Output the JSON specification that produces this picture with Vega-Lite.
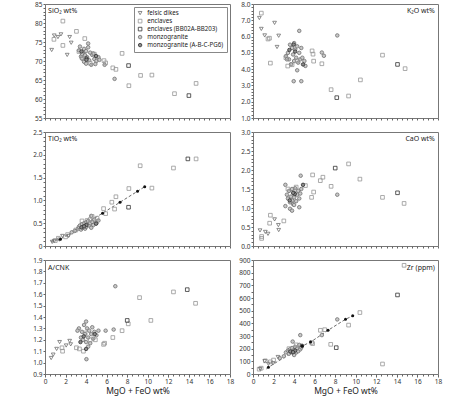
{
  "$schema": "https://vega.github.io/schema/vega-lite/v6.json",
  "padding": {"left": 32, "top": 0, "right": 5, "bottom": 0},
  "config": {
    "font": "Noto Sans",
    "view": {"stroke": "#777", "strokeWidth": 1},
    "axis": {"labelFontSize": 6.5, "labelColor": "#333", "tickColor": "#666", "domain": false, "grid": false, "labelPadding": 1, "titleFontSize": 8.5, "titleFontWeight": "normal", "titleColor": "#222", "titlePadding": 2, "labelOverlap": false, "labelFlush": false, "tickSize": 2, "tickCount": 1000},
    "legend": {"orient": "top-right", "offset": 3, "strokeColor": "#888", "padding": 3, "labelFontSize": 6.2, "labelColor": "#222", "rowPadding": 0, "labelLimit": 200, "fillColor": "white"},
    "text": {"fontSize": 7, "color": "#222"}
  },
  "datasets": {
    "pts": [
      {"p":"SiO2","t":"monzogranite","x":3.3,"y":72.8},{"p":"SiO2","t":"monzogranite","x":3.4,"y":73.8},{"p":"SiO2","t":"monzogranite","x":3.5,"y":71.2},{"p":"SiO2","t":"monzogranite","x":3.6,"y":70.6},{"p":"SiO2","t":"monzogranite","x":3.7,"y":72.0},{"p":"SiO2","t":"monzogranite","x":3.8,"y":73.2},{"p":"SiO2","t":"monzogranite","x":3.8,"y":69.8},{"p":"SiO2","t":"monzogranite","x":3.9,"y":71.5},{"p":"SiO2","t":"monzogranite","x":4.0,"y":72.6},{"p":"SiO2","t":"monzogranite","x":4.0,"y":69.3},{"p":"SiO2","t":"monzogranite","x":4.1,"y":71.0},{"p":"SiO2","t":"monzogranite","x":4.2,"y":73.6},{"p":"SiO2","t":"monzogranite","x":4.3,"y":70.2},{"p":"SiO2","t":"monzogranite","x":4.4,"y":72.2},{"p":"SiO2","t":"monzogranite","x":4.5,"y":69.0},{"p":"SiO2","t":"monzogranite","x":4.6,"y":71.6},{"p":"SiO2","t":"monzogranite","x":4.7,"y":72.0},{"p":"SiO2","t":"monzogranite","x":4.8,"y":70.5},{"p":"SiO2","t":"monzogranite","x":5.0,"y":70.0},{"p":"SiO2","t":"monzogranite","x":5.2,"y":71.0},{"p":"SiO2","t":"monzogranite","x":5.3,"y":70.3},{"p":"SiO2","t":"monzogranite","x":4.9,"y":69.2},{"p":"SiO2","t":"monzogranite","x":3.6,"y":71.9},{"p":"SiO2","t":"monzogranite","x":4.2,"y":74.6},{"p":"SiO2","t":"monzogranite","x":5.8,"y":69.0},{"p":"SiO2","t":"monzogranite","x":6.77,"y":65.3},
      {"p":"SiO2","t":"enclaves","x":0.87,"y":75.7},{"p":"SiO2","t":"enclaves","x":1.74,"y":74.1},{"p":"SiO2","t":"enclaves","x":1.74,"y":80.5},{"p":"SiO2","t":"enclaves","x":3.06,"y":77.8},{"p":"SiO2","t":"enclaves","x":3.87,"y":75.9},{"p":"SiO2","t":"enclaves","x":5.74,"y":70.1},{"p":"SiO2","t":"enclaves","x":5.9,"y":69.5},{"p":"SiO2","t":"enclaves","x":6.6,"y":68.2},{"p":"SiO2","t":"enclaves","x":6.9,"y":67.8},{"p":"SiO2","t":"enclaves","x":7.5,"y":72.0},{"p":"SiO2","t":"enclaves","x":8.16,"y":63.5},{"p":"SiO2","t":"enclaves","x":9.3,"y":66.2},{"p":"SiO2","t":"enclaves","x":10.4,"y":66.3},{"p":"SiO2","t":"enclaves","x":12.6,"y":61.4},{"p":"SiO2","t":"enclaves","x":14.7,"y":64.1},{"p":"SiO2","t":"enclaves","x":3.3,"y":72.5},{"p":"SiO2","t":"enclaves","x":4.4,"y":69.4},{"p":"SiO2","t":"enclaves","x":3.6,"y":70.9},{"p":"SiO2","t":"enclaves","x":4.8,"y":71.8},
      {"p":"SiO2","t":"felsic dikes","x":0.65,"y":72.9},{"p":"SiO2","t":"felsic dikes","x":0.9,"y":76.7},{"p":"SiO2","t":"felsic dikes","x":1.26,"y":76.3},{"p":"SiO2","t":"felsic dikes","x":1.55,"y":77.0},{"p":"SiO2","t":"felsic dikes","x":2.16,"y":71.6},{"p":"SiO2","t":"felsic dikes","x":2.4,"y":76.3},{"p":"SiO2","t":"felsic dikes","x":2.55,"y":74.8},
      {"p":"SiO2","t":"enclaves (BB02A-BB203)","x":8.13,"y":68.8},{"p":"SiO2","t":"enclaves (BB02A-BB203)","x":14.0,"y":60.9},
      {"p":"SiO2","t":"monzogranite (A-B-C-PG6)","x":3.55,"y":72.5},{"p":"SiO2","t":"monzogranite (A-B-C-PG6)","x":4.03,"y":70.7},{"p":"SiO2","t":"monzogranite (A-B-C-PG6)","x":4.03,"y":70.3},{"p":"SiO2","t":"monzogranite (A-B-C-PG6)","x":4.97,"y":71.3},

      {"p":"K2O","t":"monzogranite","x":3.2,"y":4.8},{"p":"K2O","t":"monzogranite","x":3.4,"y":5.0},{"p":"K2O","t":"monzogranite","x":3.5,"y":4.6},{"p":"K2O","t":"monzogranite","x":3.6,"y":5.5},{"p":"K2O","t":"monzogranite","x":3.7,"y":4.3},{"p":"K2O","t":"monzogranite","x":3.8,"y":5.3},{"p":"K2O","t":"monzogranite","x":3.9,"y":4.9},{"p":"K2O","t":"monzogranite","x":4.0,"y":4.5},{"p":"K2O","t":"monzogranite","x":4.0,"y":5.6},{"p":"K2O","t":"monzogranite","x":4.1,"y":5.2},{"p":"K2O","t":"monzogranite","x":4.2,"y":4.7},{"p":"K2O","t":"monzogranite","x":4.3,"y":5.4},{"p":"K2O","t":"monzogranite","x":4.4,"y":4.4},{"p":"K2O","t":"monzogranite","x":4.5,"y":5.0},{"p":"K2O","t":"monzogranite","x":4.6,"y":4.6},{"p":"K2O","t":"monzogranite","x":4.7,"y":5.3},{"p":"K2O","t":"monzogranite","x":4.8,"y":4.7},{"p":"K2O","t":"monzogranite","x":5.0,"y":4.5},{"p":"K2O","t":"monzogranite","x":5.1,"y":4.2},{"p":"K2O","t":"monzogranite","x":3.3,"y":4.6},{"p":"K2O","t":"monzogranite","x":4.5,"y":6.35},{"p":"K2O","t":"monzogranite","x":8.2,"y":6.07},{"p":"K2O","t":"monzogranite","x":6.7,"y":5.02},{"p":"K2O","t":"monzogranite","x":6.9,"y":4.82},{"p":"K2O","t":"monzogranite","x":3.96,"y":3.26},{"p":"K2O","t":"monzogranite","x":4.7,"y":3.26},{"p":"K2O","t":"monzogranite","x":4.3,"y":3.93},
      {"p":"K2O","t":"enclaves","x":0.81,"y":7.44},{"p":"K2O","t":"enclaves","x":1.46,"y":5.85},{"p":"K2O","t":"enclaves","x":1.6,"y":5.9},{"p":"K2O","t":"enclaves","x":1.69,"y":4.37},{"p":"K2O","t":"enclaves","x":3.38,"y":4.19},{"p":"K2O","t":"enclaves","x":3.8,"y":4.27},{"p":"K2O","t":"enclaves","x":5.75,"y":5.12},{"p":"K2O","t":"enclaves","x":5.84,"y":4.92},{"p":"K2O","t":"enclaves","x":5.9,"y":4.49},{"p":"K2O","t":"enclaves","x":6.7,"y":4.33},{"p":"K2O","t":"enclaves","x":7.6,"y":2.74},{"p":"K2O","t":"enclaves","x":9.3,"y":2.35},{"p":"K2O","t":"enclaves","x":10.45,"y":3.34},{"p":"K2O","t":"enclaves","x":12.6,"y":4.86},{"p":"K2O","t":"enclaves","x":14.8,"y":4.03},{"p":"K2O","t":"enclaves","x":3.2,"y":4.7},{"p":"K2O","t":"enclaves","x":4.3,"y":4.5},
      {"p":"K2O","t":"felsic dikes","x":0.62,"y":7.14},{"p":"K2O","t":"felsic dikes","x":0.81,"y":6.47},{"p":"K2O","t":"felsic dikes","x":1.14,"y":6.07},{"p":"K2O","t":"felsic dikes","x":2.1,"y":6.84},{"p":"K2O","t":"felsic dikes","x":2.5,"y":6.05},{"p":"K2O","t":"felsic dikes","x":2.34,"y":5.36},
      {"p":"K2O","t":"enclaves (BB02A-BB203)","x":8.15,"y":2.25},{"p":"K2O","t":"enclaves (BB02A-BB203)","x":14.06,"y":4.29},
      {"p":"K2O","t":"monzogranite (A-B-C-PG6)","x":3.54,"y":5.18},{"p":"K2O","t":"monzogranite (A-B-C-PG6)","x":3.96,"y":5.51},{"p":"K2O","t":"monzogranite (A-B-C-PG6)","x":4.1,"y":5.08},{"p":"K2O","t":"monzogranite (A-B-C-PG6)","x":4.87,"y":4.29},

      {"p":"TiO2","t":"monzogranite","x":3.2,"y":0.38},{"p":"TiO2","t":"monzogranite","x":3.3,"y":0.42},{"p":"TiO2","t":"monzogranite","x":3.4,"y":0.45},{"p":"TiO2","t":"monzogranite","x":3.5,"y":0.36},{"p":"TiO2","t":"monzogranite","x":3.6,"y":0.48},{"p":"TiO2","t":"monzogranite","x":3.7,"y":0.40},{"p":"TiO2","t":"monzogranite","x":3.8,"y":0.50},{"p":"TiO2","t":"monzogranite","x":3.8,"y":0.44},{"p":"TiO2","t":"monzogranite","x":3.9,"y":0.38},{"p":"TiO2","t":"monzogranite","x":4.0,"y":0.52},{"p":"TiO2","t":"monzogranite","x":4.0,"y":0.42},{"p":"TiO2","t":"monzogranite","x":4.1,"y":0.47},{"p":"TiO2","t":"monzogranite","x":4.2,"y":0.55},{"p":"TiO2","t":"monzogranite","x":4.3,"y":0.45},{"p":"TiO2","t":"monzogranite","x":4.4,"y":0.50},{"p":"TiO2","t":"monzogranite","x":4.5,"y":0.40},{"p":"TiO2","t":"monzogranite","x":4.6,"y":0.53},{"p":"TiO2","t":"monzogranite","x":4.7,"y":0.46},{"p":"TiO2","t":"monzogranite","x":4.8,"y":0.58},{"p":"TiO2","t":"monzogranite","x":5.0,"y":0.50},{"p":"TiO2","t":"monzogranite","x":2.6,"y":0.30},{"p":"TiO2","t":"monzogranite","x":2.9,"y":0.33},{"p":"TiO2","t":"monzogranite","x":4.5,"y":0.66},{"p":"TiO2","t":"monzogranite","x":5.2,"y":0.56},
      {"p":"TiO2","t":"enclaves","x":14.7,"y":1.91},{"p":"TiO2","t":"enclaves","x":9.26,"y":1.76},{"p":"TiO2","t":"enclaves","x":12.5,"y":1.71},{"p":"TiO2","t":"enclaves","x":10.4,"y":1.27},{"p":"TiO2","t":"enclaves","x":8.16,"y":1.26},{"p":"TiO2","t":"enclaves","x":6.9,"y":1.08},{"p":"TiO2","t":"enclaves","x":6.5,"y":0.96},{"p":"TiO2","t":"enclaves","x":6.77,"y":0.81},{"p":"TiO2","t":"enclaves","x":5.7,"y":0.82},{"p":"TiO2","t":"enclaves","x":5.9,"y":0.71},{"p":"TiO2","t":"enclaves","x":5.06,"y":0.61},{"p":"TiO2","t":"enclaves","x":4.58,"y":0.65},{"p":"TiO2","t":"enclaves","x":1.0,"y":0.12},{"p":"TiO2","t":"enclaves","x":1.3,"y":0.17},{"p":"TiO2","t":"enclaves","x":2.0,"y":0.2},{"p":"TiO2","t":"enclaves","x":3.0,"y":0.35},{"p":"TiO2","t":"enclaves","x":3.6,"y":0.55},{"p":"TiO2","t":"enclaves","x":4.1,"y":0.56},{"p":"TiO2","t":"enclaves","x":4.4,"y":0.58},{"p":"TiO2","t":"enclaves","x":2.2,"y":0.25},
      {"p":"TiO2","t":"felsic dikes","x":0.7,"y":0.09},{"p":"TiO2","t":"felsic dikes","x":0.9,"y":0.11},{"p":"TiO2","t":"felsic dikes","x":1.4,"y":0.14},{"p":"TiO2","t":"felsic dikes","x":1.7,"y":0.22},{"p":"TiO2","t":"felsic dikes","x":2.3,"y":0.22},
      {"p":"TiO2","t":"enclaves (BB02A-BB203)","x":13.9,"y":1.91},{"p":"TiO2","t":"enclaves (BB02A-BB203)","x":8.13,"y":0.85},
      {"p":"TiO2","t":"monzogranite (A-B-C-PG6)","x":4.03,"y":0.46},{"p":"TiO2","t":"monzogranite (A-B-C-PG6)","x":4.97,"y":0.49},{"p":"TiO2","t":"monzogranite (A-B-C-PG6)","x":3.55,"y":0.41},{"p":"TiO2","t":"monzogranite (A-B-C-PG6)","x":3.8,"y":0.43},

      {"p":"CaO","t":"monzogranite","x":3.3,"y":1.35},{"p":"CaO","t":"monzogranite","x":3.4,"y":1.25},{"p":"CaO","t":"monzogranite","x":3.5,"y":1.45},{"p":"CaO","t":"monzogranite","x":3.6,"y":1.15},{"p":"CaO","t":"monzogranite","x":3.7,"y":1.30},{"p":"CaO","t":"monzogranite","x":3.8,"y":1.50},{"p":"CaO","t":"monzogranite","x":3.8,"y":1.20},{"p":"CaO","t":"monzogranite","x":3.9,"y":1.10},{"p":"CaO","t":"monzogranite","x":4.0,"y":1.40},{"p":"CaO","t":"monzogranite","x":4.0,"y":1.28},{"p":"CaO","t":"monzogranite","x":4.1,"y":1.52},{"p":"CaO","t":"monzogranite","x":4.2,"y":1.18},{"p":"CaO","t":"monzogranite","x":4.3,"y":1.35},{"p":"CaO","t":"monzogranite","x":4.4,"y":1.45},{"p":"CaO","t":"monzogranite","x":4.5,"y":1.25},{"p":"CaO","t":"monzogranite","x":4.6,"y":1.38},{"p":"CaO","t":"monzogranite","x":4.7,"y":1.50},{"p":"CaO","t":"monzogranite","x":3.6,"y":0.98},{"p":"CaO","t":"monzogranite","x":3.8,"y":0.93},{"p":"CaO","t":"monzogranite","x":3.15,"y":1.61},{"p":"CaO","t":"monzogranite","x":3.15,"y":1.05},{"p":"CaO","t":"monzogranite","x":4.5,"y":1.02},{"p":"CaO","t":"monzogranite","x":4.0,"y":1.08},{"p":"CaO","t":"monzogranite","x":4.64,"y":1.85},{"p":"CaO","t":"monzogranite","x":8.2,"y":1.35},
      {"p":"CaO","t":"enclaves","x":9.3,"y":2.16},{"p":"CaO","t":"enclaves","x":10.4,"y":1.76},{"p":"CaO","t":"enclaves","x":12.6,"y":1.28},{"p":"CaO","t":"enclaves","x":14.7,"y":1.12},{"p":"CaO","t":"enclaves","x":7.6,"y":1.57},{"p":"CaO","t":"enclaves","x":6.8,"y":1.81},{"p":"CaO","t":"enclaves","x":6.55,"y":1.72},{"p":"CaO","t":"enclaves","x":5.8,"y":1.87},{"p":"CaO","t":"enclaves","x":5.9,"y":1.42},{"p":"CaO","t":"enclaves","x":5.7,"y":1.28},{"p":"CaO","t":"enclaves","x":5.1,"y":1.59},{"p":"CaO","t":"enclaves","x":1.69,"y":0.81},{"p":"CaO","t":"enclaves","x":1.62,"y":0.6},{"p":"CaO","t":"enclaves","x":0.84,"y":0.2},{"p":"CaO","t":"enclaves","x":0.84,"y":0.25},{"p":"CaO","t":"enclaves","x":3.0,"y":0.66},{"p":"CaO","t":"enclaves","x":3.4,"y":1.5},{"p":"CaO","t":"enclaves","x":4.2,"y":1.55},
      {"p":"CaO","t":"felsic dikes","x":0.68,"y":0.41},{"p":"CaO","t":"felsic dikes","x":1.2,"y":0.37},{"p":"CaO","t":"felsic dikes","x":1.46,"y":0.32},{"p":"CaO","t":"felsic dikes","x":2.1,"y":0.7},{"p":"CaO","t":"felsic dikes","x":2.47,"y":0.55},{"p":"CaO","t":"felsic dikes","x":2.5,"y":0.42},
      {"p":"CaO","t":"enclaves (BB02A-BB203)","x":8.0,"y":2.05},{"p":"CaO","t":"enclaves (BB02A-BB203)","x":14.06,"y":1.40},
      {"p":"CaO","t":"monzogranite (A-B-C-PG6)","x":4.87,"y":1.61},{"p":"CaO","t":"monzogranite (A-B-C-PG6)","x":4.06,"y":1.37},{"p":"CaO","t":"monzogranite (A-B-C-PG6)","x":3.9,"y":1.40},{"p":"CaO","t":"monzogranite (A-B-C-PG6)","x":3.57,"y":1.2},

      {"p":"ACNK","t":"monzogranite","x":3.3,"y":1.30},{"p":"ACNK","t":"monzogranite","x":3.5,"y":1.22},{"p":"ACNK","t":"monzogranite","x":3.6,"y":1.27},{"p":"ACNK","t":"monzogranite","x":3.7,"y":1.20},{"p":"ACNK","t":"monzogranite","x":3.8,"y":1.33},{"p":"ACNK","t":"monzogranite","x":3.9,"y":1.25},{"p":"ACNK","t":"monzogranite","x":4.0,"y":1.36},{"p":"ACNK","t":"monzogranite","x":4.0,"y":1.18},{"p":"ACNK","t":"monzogranite","x":4.1,"y":1.30},{"p":"ACNK","t":"monzogranite","x":4.2,"y":1.22},{"p":"ACNK","t":"monzogranite","x":4.3,"y":1.28},{"p":"ACNK","t":"monzogranite","x":4.4,"y":1.17},{"p":"ACNK","t":"monzogranite","x":4.5,"y":1.25},{"p":"ACNK","t":"monzogranite","x":4.6,"y":1.31},{"p":"ACNK","t":"monzogranite","x":4.7,"y":1.21},{"p":"ACNK","t":"monzogranite","x":4.8,"y":1.27},{"p":"ACNK","t":"monzogranite","x":5.0,"y":1.24},{"p":"ACNK","t":"monzogranite","x":5.2,"y":1.28},{"p":"ACNK","t":"monzogranite","x":4.2,"y":1.14},{"p":"ACNK","t":"monzogranite","x":6.84,"y":1.67},{"p":"ACNK","t":"monzogranite","x":6.68,"y":1.29},{"p":"ACNK","t":"monzogranite","x":5.9,"y":1.28},{"p":"ACNK","t":"monzogranite","x":4.03,"y":1.03},{"p":"ACNK","t":"monzogranite","x":3.16,"y":1.28},
      {"p":"ACNK","t":"enclaves","x":12.5,"y":1.62},{"p":"ACNK","t":"enclaves","x":14.65,"y":1.52},{"p":"ACNK","t":"enclaves","x":9.2,"y":1.57},{"p":"ACNK","t":"enclaves","x":10.3,"y":1.37},{"p":"ACNK","t":"enclaves","x":8.1,"y":1.34},{"p":"ACNK","t":"enclaves","x":7.5,"y":1.28},{"p":"ACNK","t":"enclaves","x":6.6,"y":1.22},{"p":"ACNK","t":"enclaves","x":5.7,"y":1.16},{"p":"ACNK","t":"enclaves","x":5.8,"y":1.17},{"p":"ACNK","t":"enclaves","x":4.9,"y":1.20},{"p":"ACNK","t":"enclaves","x":3.06,"y":1.13},{"p":"ACNK","t":"enclaves","x":3.35,"y":1.12},{"p":"ACNK","t":"enclaves","x":3.74,"y":1.10},{"p":"ACNK","t":"enclaves","x":1.65,"y":1.13},{"p":"ACNK","t":"enclaves","x":1.71,"y":1.10},{"p":"ACNK","t":"enclaves","x":4.4,"y":1.20},{"p":"ACNK","t":"enclaves","x":3.9,"y":1.26},
      {"p":"ACNK","t":"felsic dikes","x":0.6,"y":1.04},{"p":"ACNK","t":"felsic dikes","x":0.8,"y":1.07},{"p":"ACNK","t":"felsic dikes","x":1.13,"y":1.12},{"p":"ACNK","t":"felsic dikes","x":1.42,"y":1.18},{"p":"ACNK","t":"felsic dikes","x":2.06,"y":1.15},{"p":"ACNK","t":"felsic dikes","x":2.4,"y":1.19},{"p":"ACNK","t":"felsic dikes","x":2.5,"y":1.16},
      {"p":"ACNK","t":"enclaves (BB02A-BB203)","x":13.84,"y":1.64},{"p":"ACNK","t":"enclaves (BB02A-BB203)","x":8.0,"y":1.37},
      {"p":"ACNK","t":"monzogranite (A-B-C-PG6)","x":3.45,"y":1.18},{"p":"ACNK","t":"monzogranite (A-B-C-PG6)","x":3.77,"y":1.23},{"p":"ACNK","t":"monzogranite (A-B-C-PG6)","x":4.0,"y":1.12},{"p":"ACNK","t":"monzogranite (A-B-C-PG6)","x":4.84,"y":1.25},

      {"p":"Zr","t":"monzogranite","x":3.2,"y":170},{"p":"Zr","t":"monzogranite","x":3.4,"y":185},{"p":"Zr","t":"monzogranite","x":3.5,"y":160},{"p":"Zr","t":"monzogranite","x":3.6,"y":195},{"p":"Zr","t":"monzogranite","x":3.7,"y":175},{"p":"Zr","t":"monzogranite","x":3.8,"y":205},{"p":"Zr","t":"monzogranite","x":3.9,"y":165},{"p":"Zr","t":"monzogranite","x":4.0,"y":190},{"p":"Zr","t":"monzogranite","x":4.1,"y":215},{"p":"Zr","t":"monzogranite","x":4.2,"y":170},{"p":"Zr","t":"monzogranite","x":4.3,"y":200},{"p":"Zr","t":"monzogranite","x":4.4,"y":180},{"p":"Zr","t":"monzogranite","x":4.5,"y":230},{"p":"Zr","t":"monzogranite","x":4.6,"y":195},{"p":"Zr","t":"monzogranite","x":4.7,"y":210},{"p":"Zr","t":"monzogranite","x":4.0,"y":150},{"p":"Zr","t":"monzogranite","x":3.86,"y":256},{"p":"Zr","t":"monzogranite","x":4.6,"y":307},{"p":"Zr","t":"monzogranite","x":8.2,"y":431},{"p":"Zr","t":"monzogranite","x":6.7,"y":307},{"p":"Zr","t":"monzogranite","x":3.0,"y":140},{"p":"Zr","t":"monzogranite","x":2.6,"y":125},
      {"p":"Zr","t":"enclaves","x":14.7,"y":858},{"p":"Zr","t":"enclaves","x":10.4,"y":485},{"p":"Zr","t":"enclaves","x":9.3,"y":386},{"p":"Zr","t":"enclaves","x":12.6,"y":79},{"p":"Zr","t":"enclaves","x":7.56,"y":234},{"p":"Zr","t":"enclaves","x":6.98,"y":350},{"p":"Zr","t":"enclaves","x":6.56,"y":345},{"p":"Zr","t":"enclaves","x":5.7,"y":249},{"p":"Zr","t":"enclaves","x":5.8,"y":240},{"p":"Zr","t":"enclaves","x":1.69,"y":96},{"p":"Zr","t":"enclaves","x":0.8,"y":46},{"p":"Zr","t":"enclaves","x":0.6,"y":38},{"p":"Zr","t":"enclaves","x":1.2,"y":104},{"p":"Zr","t":"enclaves","x":2.0,"y":110},{"p":"Zr","t":"enclaves","x":3.5,"y":200},{"p":"Zr","t":"enclaves","x":4.2,"y":230},
      {"p":"Zr","t":"felsic dikes","x":1.14,"y":101},{"p":"Zr","t":"felsic dikes","x":2.43,"y":134},{"p":"Zr","t":"felsic dikes","x":1.95,"y":84},{"p":"Zr","t":"felsic dikes","x":0.7,"y":40},{"p":"Zr","t":"felsic dikes","x":1.5,"y":80},
      {"p":"Zr","t":"enclaves (BB02A-BB203)","x":14.06,"y":624},{"p":"Zr","t":"enclaves (BB02A-BB203)","x":8.1,"y":208},
      {"p":"Zr","t":"monzogranite (A-B-C-PG6)","x":3.63,"y":178},{"p":"Zr","t":"monzogranite (A-B-C-PG6)","x":4.1,"y":185},{"p":"Zr","t":"monzogranite (A-B-C-PG6)","x":4.77,"y":223},{"p":"Zr","t":"monzogranite (A-B-C-PG6)","x":3.9,"y":172}
    ],
    "trend": [
      {"p":"TiO2","x":0.6,"y":0.10,"dot":false},{"p":"TiO2","x":1.5,"y":0.15,"dot":true},{"p":"TiO2","x":5.6,"y":0.72,"dot":true},{"p":"TiO2","x":7.3,"y":0.96,"dot":true},{"p":"TiO2","x":9.0,"y":1.20,"dot":true},{"p":"TiO2","x":9.7,"y":1.30,"dot":true},
      {"p":"Zr","x":1.3,"y":40,"dot":false},{"p":"Zr","x":1.5,"y":53,"dot":true},{"p":"Zr","x":4.8,"y":222,"dot":true},{"p":"Zr","x":5.6,"y":252,"dot":true},{"p":"Zr","x":7.3,"y":345,"dot":true},{"p":"Zr","x":9.0,"y":432,"dot":true},{"p":"Zr","x":9.7,"y":459,"dot":true}
    ]
  },
  "columns": 2,
  "spacing": {"row": 6, "column": 3},
  "resolve": {"legend": {"shape": "independent", "stroke": "independent", "fill": "independent", "size": "independent", "strokeWidth": "independent"}},
  "concat": [
    {
      "width": 185, "height": 114,
      "layer": [
        {
          "data": {"name": "pts"}, "transform": [{"filter": "datum.p == 'SiO2'"}],
          "mark": {"type": "point", "filled": true, "opacity": 1},
          "encoding": {
            "x": {"field": "x", "type": "quantitative", "scale": {"domain": [0, 18], "nice": false}, "axis": {"values": [0,0.5,1,1.5,2,2.5,3,3.5,4,4.5,5,5.5,6,6.5,7,7.5,8,8.5,9,9.5,10,10.5,11,11.5,12,12.5,13,13.5,14,14.5,15,15.5,16,16.5,17,17.5,18], "labels": false, "title": null}},
            "y": {"field": "y", "type": "quantitative", "scale": {"domain": [55, 85], "nice": false}, "axis": {"values": [55,56,57,58,59,60,61,62,63,64,65,66,67,68,69,70,71,72,73,74,75,76,77,78,79,80,81,82,83,84,85], "labelExpr": "datum.value % 5 == 0 ? format(datum.value, 'd') : ''", "labelOverlap": false, "title": null}},
            "shape": {"field": "t", "type": "nominal", "scale": {"domain": ["felsic dikes", "enclaves", "enclaves (BB02A-BB203)", "monzogranite", "monzogranite (A-B-C-PG6)"], "range": ["triangle-down", "square", "square", "circle", "circle"]}, "title": null},
            "stroke": {"field": "t", "type": "nominal", "scale": {"domain": ["felsic dikes", "enclaves", "enclaves (BB02A-BB203)", "monzogranite", "monzogranite (A-B-C-PG6)"], "range": ["#6e6e6e", "#959595", "#333333", "#707070", "#2e2e2e"]}, "title": null},
            "fill": {"field": "t", "type": "nominal", "scale": {"domain": ["felsic dikes", "enclaves", "enclaves (BB02A-BB203)", "monzogranite", "monzogranite (A-B-C-PG6)"], "range": ["transparent", "transparent", "transparent", "#c8c8c8", "#8a8a8a"]}, "title": null},
            "size": {"field": "t", "type": "nominal", "scale": {"domain": ["felsic dikes", "enclaves", "enclaves (BB02A-BB203)", "monzogranite", "monzogranite (A-B-C-PG6)"], "range": [14, 12, 38, 12, 24]}, "title": null},
            "strokeWidth": {"field": "t", "type": "nominal", "scale": {"domain": ["felsic dikes", "enclaves", "enclaves (BB02A-BB203)", "monzogranite", "monzogranite (A-B-C-PG6)"], "range": [0.8, 0.8, 1.3, 0.8, 1.5]}, "title": null}
          }
        },
        {"data": {"values": [{"label": "SiO₂ wt%"}]}, "mark": {"type": "text", "align": "left", "baseline": "middle"}, "encoding": {"x": {"datum": 0.3}, "y": {"datum": 83.2}, "text": {"field": "label"}}}
      ]
    },
    {
      "width": 185, "height": 114,
      "layer": [
        {
          "data": {"name": "pts"}, "transform": [{"filter": "datum.p == 'K2O'"}],
          "mark": {"type": "point", "filled": true, "opacity": 1},
          "encoding": {
            "x": {"field": "x", "type": "quantitative", "scale": {"domain": [0, 18], "nice": false}, "axis": {"values": [0,0.5,1,1.5,2,2.5,3,3.5,4,4.5,5,5.5,6,6.5,7,7.5,8,8.5,9,9.5,10,10.5,11,11.5,12,12.5,13,13.5,14,14.5,15,15.5,16,16.5,17,17.5,18], "labels": false, "title": null}},
            "y": {"field": "y", "type": "quantitative", "scale": {"domain": [1, 8], "nice": false}, "axis": {"values": [1,1.2,1.4,1.6,1.8,2,2.2,2.4,2.6,2.8,3,3.2,3.4,3.6,3.8,4,4.2,4.4,4.6,4.8,5,5.2,5.4,5.6,5.8,6,6.2,6.4,6.6,6.8,7,7.2,7.4,7.6,7.8,8], "labelExpr": "abs(datum.value - round(datum.value)) < 0.001 ? format(datum.value, '.1f') : ''", "labelOverlap": false, "title": null}},
            "shape": {"field": "t", "type": "nominal", "scale": {"domain": ["felsic dikes", "enclaves", "enclaves (BB02A-BB203)", "monzogranite", "monzogranite (A-B-C-PG6)"], "range": ["triangle-down", "square", "square", "circle", "circle"]}, "legend": null},
            "stroke": {"field": "t", "type": "nominal", "scale": {"domain": ["felsic dikes", "enclaves", "enclaves (BB02A-BB203)", "monzogranite", "monzogranite (A-B-C-PG6)"], "range": ["#6e6e6e", "#959595", "#333333", "#707070", "#2e2e2e"]}, "legend": null},
            "fill": {"field": "t", "type": "nominal", "scale": {"domain": ["felsic dikes", "enclaves", "enclaves (BB02A-BB203)", "monzogranite", "monzogranite (A-B-C-PG6)"], "range": ["transparent", "transparent", "transparent", "#c8c8c8", "#8a8a8a"]}, "legend": null},
            "size": {"field": "t", "type": "nominal", "scale": {"domain": ["felsic dikes", "enclaves", "enclaves (BB02A-BB203)", "monzogranite", "monzogranite (A-B-C-PG6)"], "range": [14, 12, 38, 12, 24]}, "legend": null},
            "strokeWidth": {"field": "t", "type": "nominal", "scale": {"domain": ["felsic dikes", "enclaves", "enclaves (BB02A-BB203)", "monzogranite", "monzogranite (A-B-C-PG6)"], "range": [0.8, 0.8, 1.3, 0.8, 1.5]}, "legend": null}
          }
        },
        {"data": {"values": [{"label": "K₂O wt%"}]}, "mark": {"type": "text", "align": "right", "baseline": "middle"}, "encoding": {"x": {"datum": 17.7}, "y": {"datum": 7.55}, "text": {"field": "label"}}}
      ]
    },
    {
      "width": 185, "height": 114,
      "layer": [
        {
          "data": {"name": "trend"}, "transform": [{"filter": "datum.p == 'TiO2'"}],
          "mark": {"type": "line", "color": "#444", "strokeWidth": 0.8, "strokeDash": [3, 2]},
          "encoding": {"x": {"field": "x", "type": "quantitative", "scale": {"domain": [0, 18], "nice": false}, "axis": {"values": [0,0.5,1,1.5,2,2.5,3,3.5,4,4.5,5,5.5,6,6.5,7,7.5,8,8.5,9,9.5,10,10.5,11,11.5,12,12.5,13,13.5,14,14.5,15,15.5,16,16.5,17,17.5,18], "labels": false, "title": null}}, "y": {"field": "y", "type": "quantitative", "scale": {"domain": [0, 2.5], "nice": false}, "axis": {"values": [0,0.1,0.2,0.3,0.4,0.5,0.6,0.7,0.8,0.9,1,1.1,1.2,1.3,1.4,1.5,1.6,1.7,1.8,1.9,2,2.1,2.2,2.3,2.4,2.5], "labelExpr": "abs(datum.value*2 - round(datum.value*2)) < 0.001 ? (datum.value == 0 ? '0' : format(datum.value, '.1f')) : ''", "labelOverlap": false, "title": null}}}
        },
        {
          "data": {"name": "pts"}, "transform": [{"filter": "datum.p == 'TiO2'"}],
          "mark": {"type": "point", "filled": true, "opacity": 1},
          "encoding": {
            "x": {"field": "x", "type": "quantitative"},
            "y": {"field": "y", "type": "quantitative"},
            "shape": {"field": "t", "type": "nominal", "scale": {"domain": ["felsic dikes", "enclaves", "enclaves (BB02A-BB203)", "monzogranite", "monzogranite (A-B-C-PG6)"], "range": ["triangle-down", "square", "square", "circle", "circle"]}, "legend": null},
            "stroke": {"field": "t", "type": "nominal", "scale": {"domain": ["felsic dikes", "enclaves", "enclaves (BB02A-BB203)", "monzogranite", "monzogranite (A-B-C-PG6)"], "range": ["#6e6e6e", "#959595", "#333333", "#707070", "#2e2e2e"]}, "legend": null},
            "fill": {"field": "t", "type": "nominal", "scale": {"domain": ["felsic dikes", "enclaves", "enclaves (BB02A-BB203)", "monzogranite", "monzogranite (A-B-C-PG6)"], "range": ["transparent", "transparent", "transparent", "#c8c8c8", "#8a8a8a"]}, "legend": null},
            "size": {"field": "t", "type": "nominal", "scale": {"domain": ["felsic dikes", "enclaves", "enclaves (BB02A-BB203)", "monzogranite", "monzogranite (A-B-C-PG6)"], "range": [14, 12, 38, 12, 24]}, "legend": null},
            "strokeWidth": {"field": "t", "type": "nominal", "scale": {"domain": ["felsic dikes", "enclaves", "enclaves (BB02A-BB203)", "monzogranite", "monzogranite (A-B-C-PG6)"], "range": [0.8, 0.8, 1.3, 0.8, 1.5]}, "legend": null}
          }
        },
        {
          "data": {"name": "trend"}, "transform": [{"filter": "datum.p == 'TiO2' && datum.dot"}],
          "mark": {"type": "circle", "color": "#111", "size": 9, "opacity": 1},
          "encoding": {"x": {"field": "x", "type": "quantitative"}, "y": {"field": "y", "type": "quantitative"}}
        },
        {"data": {"values": [{"label": "TiO₂ wt%"}]}, "mark": {"type": "text", "align": "left", "baseline": "middle"}, "encoding": {"x": {"datum": 0.3}, "y": {"datum": 2.35}, "text": {"field": "label"}}}
      ]
    },
    {
      "width": 185, "height": 114,
      "layer": [
        {
          "data": {"name": "pts"}, "transform": [{"filter": "datum.p == 'CaO'"}],
          "mark": {"type": "point", "filled": true, "opacity": 1},
          "encoding": {
            "x": {"field": "x", "type": "quantitative", "scale": {"domain": [0, 18], "nice": false}, "axis": {"values": [0,0.5,1,1.5,2,2.5,3,3.5,4,4.5,5,5.5,6,6.5,7,7.5,8,8.5,9,9.5,10,10.5,11,11.5,12,12.5,13,13.5,14,14.5,15,15.5,16,16.5,17,17.5,18], "labels": false, "title": null}},
            "y": {"field": "y", "type": "quantitative", "scale": {"domain": [0, 3], "nice": false}, "axis": {"values": [0,0.1,0.2,0.3,0.4,0.5,0.6,0.7,0.8,0.9,1,1.1,1.2,1.3,1.4,1.5,1.6,1.7,1.8,1.9,2,2.1,2.2,2.3,2.4,2.5,2.6,2.7,2.8,2.9,3], "labelExpr": "abs(datum.value*2 - round(datum.value*2)) < 0.001 ? format(datum.value, '.1f') : ''", "labelOverlap": false, "title": null}},
            "shape": {"field": "t", "type": "nominal", "scale": {"domain": ["felsic dikes", "enclaves", "enclaves (BB02A-BB203)", "monzogranite", "monzogranite (A-B-C-PG6)"], "range": ["triangle-down", "square", "square", "circle", "circle"]}, "legend": null},
            "stroke": {"field": "t", "type": "nominal", "scale": {"domain": ["felsic dikes", "enclaves", "enclaves (BB02A-BB203)", "monzogranite", "monzogranite (A-B-C-PG6)"], "range": ["#6e6e6e", "#959595", "#333333", "#707070", "#2e2e2e"]}, "legend": null},
            "fill": {"field": "t", "type": "nominal", "scale": {"domain": ["felsic dikes", "enclaves", "enclaves (BB02A-BB203)", "monzogranite", "monzogranite (A-B-C-PG6)"], "range": ["transparent", "transparent", "transparent", "#c8c8c8", "#8a8a8a"]}, "legend": null},
            "size": {"field": "t", "type": "nominal", "scale": {"domain": ["felsic dikes", "enclaves", "enclaves (BB02A-BB203)", "monzogranite", "monzogranite (A-B-C-PG6)"], "range": [14, 12, 38, 12, 24]}, "legend": null},
            "strokeWidth": {"field": "t", "type": "nominal", "scale": {"domain": ["felsic dikes", "enclaves", "enclaves (BB02A-BB203)", "monzogranite", "monzogranite (A-B-C-PG6)"], "range": [0.8, 0.8, 1.3, 0.8, 1.5]}, "legend": null}
          }
        },
        {"data": {"values": [{"label": "CaO wt%"}]}, "mark": {"type": "text", "align": "right", "baseline": "middle"}, "encoding": {"x": {"datum": 17.7}, "y": {"datum": 2.82}, "text": {"field": "label"}}}
      ]
    },
    {
      "width": 185, "height": 114,
      "layer": [
        {
          "data": {"name": "pts"}, "transform": [{"filter": "datum.p == 'ACNK'"}],
          "mark": {"type": "point", "filled": true, "opacity": 1},
          "encoding": {
            "x": {"field": "x", "type": "quantitative", "scale": {"domain": [0, 18], "nice": false}, "axis": {"values": [0,0.5,1,1.5,2,2.5,3,3.5,4,4.5,5,5.5,6,6.5,7,7.5,8,8.5,9,9.5,10,10.5,11,11.5,12,12.5,13,13.5,14,14.5,15,15.5,16,16.5,17,17.5,18], "labelExpr": "datum.value % 2 == 0 ? format(datum.value, 'd') : ''", "labelOverlap": false, "title": "MgO + FeO wt%", "tickSize": {"condition": {"test": "datum.value % 2 == 0", "value": 3}, "value": 2}}},
            "y": {"field": "y", "type": "quantitative", "scale": {"domain": [0.9, 1.9], "nice": false}, "axis": {"values": [0.9,1.0,1.1,1.2,1.3,1.4,1.5,1.6,1.7,1.8,1.9], "format": ".1f", "labelOverlap": false, "title": null}},
            "shape": {"field": "t", "type": "nominal", "scale": {"domain": ["felsic dikes", "enclaves", "enclaves (BB02A-BB203)", "monzogranite", "monzogranite (A-B-C-PG6)"], "range": ["triangle-down", "square", "square", "circle", "circle"]}, "legend": null},
            "stroke": {"field": "t", "type": "nominal", "scale": {"domain": ["felsic dikes", "enclaves", "enclaves (BB02A-BB203)", "monzogranite", "monzogranite (A-B-C-PG6)"], "range": ["#6e6e6e", "#959595", "#333333", "#707070", "#2e2e2e"]}, "legend": null},
            "fill": {"field": "t", "type": "nominal", "scale": {"domain": ["felsic dikes", "enclaves", "enclaves (BB02A-BB203)", "monzogranite", "monzogranite (A-B-C-PG6)"], "range": ["transparent", "transparent", "transparent", "#c8c8c8", "#8a8a8a"]}, "legend": null},
            "size": {"field": "t", "type": "nominal", "scale": {"domain": ["felsic dikes", "enclaves", "enclaves (BB02A-BB203)", "monzogranite", "monzogranite (A-B-C-PG6)"], "range": [14, 12, 38, 12, 24]}, "legend": null},
            "strokeWidth": {"field": "t", "type": "nominal", "scale": {"domain": ["felsic dikes", "enclaves", "enclaves (BB02A-BB203)", "monzogranite", "monzogranite (A-B-C-PG6)"], "range": [0.8, 0.8, 1.3, 0.8, 1.5]}, "legend": null}
          }
        },
        {"data": {"values": [{"label": "A/CNK"}]}, "mark": {"type": "text", "align": "left", "baseline": "middle"}, "encoding": {"x": {"datum": 0.3}, "y": {"datum": 1.83}, "text": {"field": "label"}}}
      ]
    },
    {
      "width": 185, "height": 114,
      "layer": [
        {
          "data": {"name": "trend"}, "transform": [{"filter": "datum.p == 'Zr'"}],
          "mark": {"type": "line", "color": "#444", "strokeWidth": 0.8, "strokeDash": [3, 2]},
          "encoding": {"x": {"field": "x", "type": "quantitative", "scale": {"domain": [0, 18], "nice": false}, "axis": {"values": [0,0.5,1,1.5,2,2.5,3,3.5,4,4.5,5,5.5,6,6.5,7,7.5,8,8.5,9,9.5,10,10.5,11,11.5,12,12.5,13,13.5,14,14.5,15,15.5,16,16.5,17,17.5,18], "labelExpr": "datum.value % 2 == 0 ? format(datum.value, 'd') : ''", "labelOverlap": false, "title": "MgO + FeO wt%", "tickSize": {"condition": {"test": "datum.value % 2 == 0", "value": 3}, "value": 2}}}, "y": {"field": "y", "type": "quantitative", "scale": {"domain": [0, 900], "nice": false}, "axis": {"values": [0,50,100,150,200,250,300,350,400,450,500,550,600,650,700,750,800,850,900], "labelExpr": "datum.value % 100 == 0 ? format(datum.value, 'd') : ''", "labelOverlap": false, "title": null}}}
        },
        {
          "data": {"name": "pts"}, "transform": [{"filter": "datum.p == 'Zr'"}],
          "mark": {"type": "point", "filled": true, "opacity": 1},
          "encoding": {
            "x": {"field": "x", "type": "quantitative"},
            "y": {"field": "y", "type": "quantitative"},
            "shape": {"field": "t", "type": "nominal", "scale": {"domain": ["felsic dikes", "enclaves", "enclaves (BB02A-BB203)", "monzogranite", "monzogranite (A-B-C-PG6)"], "range": ["triangle-down", "square", "square", "circle", "circle"]}, "legend": null},
            "stroke": {"field": "t", "type": "nominal", "scale": {"domain": ["felsic dikes", "enclaves", "enclaves (BB02A-BB203)", "monzogranite", "monzogranite (A-B-C-PG6)"], "range": ["#6e6e6e", "#959595", "#333333", "#707070", "#2e2e2e"]}, "legend": null},
            "fill": {"field": "t", "type": "nominal", "scale": {"domain": ["felsic dikes", "enclaves", "enclaves (BB02A-BB203)", "monzogranite", "monzogranite (A-B-C-PG6)"], "range": ["transparent", "transparent", "transparent", "#c8c8c8", "#8a8a8a"]}, "legend": null},
            "size": {"field": "t", "type": "nominal", "scale": {"domain": ["felsic dikes", "enclaves", "enclaves (BB02A-BB203)", "monzogranite", "monzogranite (A-B-C-PG6)"], "range": [14, 12, 38, 12, 24]}, "legend": null},
            "strokeWidth": {"field": "t", "type": "nominal", "scale": {"domain": ["felsic dikes", "enclaves", "enclaves (BB02A-BB203)", "monzogranite", "monzogranite (A-B-C-PG6)"], "range": [0.8, 0.8, 1.3, 0.8, 1.5]}, "legend": null}
          }
        },
        {
          "data": {"name": "trend"}, "transform": [{"filter": "datum.p == 'Zr' && datum.dot"}],
          "mark": {"type": "circle", "color": "#111", "size": 9, "opacity": 1},
          "encoding": {"x": {"field": "x", "type": "quantitative"}, "y": {"field": "y", "type": "quantitative"}}
        },
        {"data": {"values": [{"label": "Zr (ppm)"}]}, "mark": {"type": "text", "align": "right", "baseline": "middle"}, "encoding": {"x": {"datum": 17.7}, "y": {"datum": 840}, "text": {"field": "label"}}}
      ]
    }
  ]
}
